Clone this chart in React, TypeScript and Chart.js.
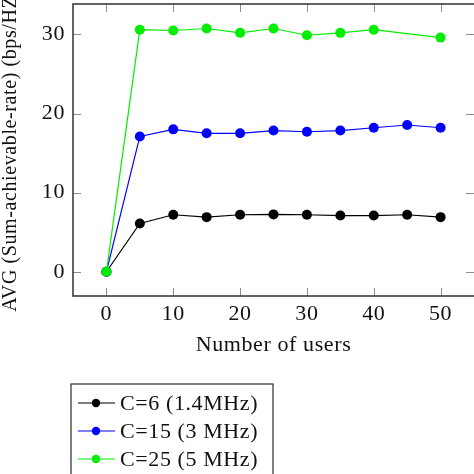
import React, { useEffect, useRef } from 'react';
import { Chart, registerables } from 'chart.js';

Chart.register(...registerables);

// Average sum-achievable rate versus number of users, per channel setup
const USERS = [0, 5, 10, 15, 20, 25, 30, 35, 40, 45, 50];
const USERS_C25 = [0, 5, 10, 15, 20, 25, 30, 35, 40, 50];
const RATE_C6 = [0, 6.1, 7.2, 6.9, 7.2, 7.25, 7.2, 7.1, 7.1, 7.2, 6.9];
const RATE_C15 = [0, 17.1, 18.0, 17.5, 17.5, 17.85, 17.7, 17.85, 18.2, 18.55, 18.2];
const RATE_C25 = [0, 30.6, 30.5, 30.75, 30.2, 30.75, 29.9, 30.2, 30.6, 29.6];

const SERIES_LABELS = ['C=6 (1.4MHz)', 'C=15 (3 MHz)', 'C=25 (5 MHz)'];
const SERIES_COLORS = ['#000000', '#0000ff', '#00ee00'];

const X_TICKS = [0, 10, 20, 30, 40, 50];
const Y_TICKS = [0, 10, 20, 30];
const X_TITLE = 'Number of users';
const Y_TITLE = 'AVG (Sum-achievable-rate) (bps/HZ)';

const FONT_FAMILY = "'Liberation Serif', 'Times New Roman', serif";
const W = 474;
const H = 474;

const toPoints = (xs: number[], ys: number[]) => xs.map((x, i) => ({ x, y: ys[i] }));

// Slightly looser tracking for every label drawn on the canvas
const trackingPlugin = {
  id: 'tracking',
  beforeDraw(chart: any) {
    chart.ctx.letterSpacing = '0.6px';
  },
};

// Boxed axis frame with inward tick marks on all four sides
const framePlugin = {
  id: 'frameTicks',
  afterDatasetsDraw(chart: any) {
    const { ctx, chartArea, scales } = chart;
    const { left, right, top, bottom } = chartArea;
    const len = 8;
    ctx.save();
    ctx.strokeStyle = '#8c8c8c';
    ctx.lineWidth = 1;
    ctx.beginPath();
    X_TICKS.forEach((v) => {
      const px = Math.round(scales.x.getPixelForValue(v)) + 0.5;
      ctx.moveTo(px, bottom);
      ctx.lineTo(px, bottom - len);
      ctx.moveTo(px, top);
      ctx.lineTo(px, top + len);
    });
    Y_TICKS.forEach((v) => {
      const py = Math.round(scales.y.getPixelForValue(v)) + 0.5;
      ctx.moveTo(left, py);
      ctx.lineTo(left + len, py);
      ctx.moveTo(right, py);
      ctx.lineTo(right - len, py);
    });
    ctx.stroke();
    ctx.strokeStyle = '#3c3c3c';
    ctx.lineWidth = 1.6;
    ctx.strokeRect(left, top, right - left + 2, bottom - top);
    ctx.restore();
  },
};

// Boxed legend below the plot
const boxLegendPlugin = {
  id: 'boxLegend',
  afterDraw(chart: any) {
    const { ctx } = chart;
    const boxLeft = 71;
    const boxTop = 384;
    const boxRight = 273;
    const rowY = [403, 431, 459];
    ctx.save();
    ctx.strokeStyle = '#4a4a4a';
    ctx.lineWidth = 1.4;
    ctx.strokeRect(boxLeft, boxTop, boxRight - boxLeft, 120);
    chart.data.datasets.forEach((ds: any, i: number) => {
      const y = rowY[i];
      ctx.strokeStyle = ds.borderColor;
      ctx.lineWidth = 1.2;
      ctx.beginPath();
      ctx.moveTo(78, y);
      ctx.lineTo(115, y);
      ctx.stroke();
      ctx.fillStyle = ds.pointBackgroundColor;
      ctx.beginPath();
      ctx.arc(96, y, 4.2, 0, Math.PI * 2);
      ctx.fill();
      ctx.fillStyle = '#111';
      ctx.font = `22px ${FONT_FAMILY}`;
      ctx.textAlign = 'left';
      ctx.textBaseline = 'middle';
      ctx.fillText(ds.label, 120, y + 1);
    });
    ctx.restore();
  },
};

export default function App() {
  const canvasRef = useRef<HTMLCanvasElement | null>(null);

  useEffect(() => {
    document.body.style.margin = '0';
    const canvas = canvasRef.current;
    if (!canvas) return;

    const series = [
      toPoints(USERS, RATE_C6),
      toPoints(USERS, RATE_C15),
      toPoints(USERS_C25, RATE_C25),
    ];

    const chart = new Chart(canvas, {
      type: 'line',
      data: {
        datasets: series.map((data, i) => ({
          label: SERIES_LABELS[i],
          data,
          borderColor: SERIES_COLORS[i],
          backgroundColor: SERIES_COLORS[i],
          pointBackgroundColor: SERIES_COLORS[i],
          pointBorderColor: SERIES_COLORS[i],
          pointRadius: 5,
          pointBorderWidth: 0,
          borderWidth: 1.2,
          tension: 0,
          fill: false,
          order: 2 - i,
        })),
      },
      options: {
        responsive: false,
        animation: false,
        events: [],
        layout: { autoPadding: false, padding: { top: 4, right: 0, left: 0, bottom: 114 } },
        plugins: {
          legend: { display: false },
          tooltip: { enabled: false },
        },
        scales: {
          x: {
            type: 'linear',
            min: -5,
            max: 55,
            afterBuildTicks: (scale: any) => {
              scale.ticks = X_TICKS.map((value) => ({ value }));
            },
            afterFit: (scale: any) => {
              scale.height = 64;
              scale.paddingLeft = 0;
              scale.paddingRight = 0;
            },
            grid: { display: false, drawTicks: false },
            border: { display: false },
            ticks: {
              padding: 5,
              color: '#111',
              font: { family: FONT_FAMILY, size: 22 },
              maxRotation: 0,
            },
            title: {
              display: true,
              text: X_TITLE,
              color: '#111',
              font: { family: FONT_FAMILY, size: 22, lineHeight: 1.2 },
              padding: { top: 0, bottom: 2 },
            },
          },
          y: {
            type: 'linear',
            min: -3.07,
            max: 33.85,
            afterBuildTicks: (scale: any) => {
              scale.ticks = Y_TICKS.map((value) => ({ value }));
            },
            afterFit: (scale: any) => {
              scale.width = 73;
              scale.paddingTop = 0;
              scale.paddingBottom = 0;
            },
            grid: { display: false, drawTicks: false },
            border: { display: false },
            ticks: {
              padding: 8,
              color: '#111',
              font: { family: FONT_FAMILY, size: 22 },
            },
            title: {
              display: true,
              text: Y_TITLE,
              color: '#111',
              font: { family: FONT_FAMILY, size: 20, lineHeight: 1.05 },
              padding: { top: 0, bottom: 0 },
            },
          },
        },
      },
      plugins: [trackingPlugin, framePlugin, boxLegendPlugin],
    });

    return () => chart.destroy();
  }, []);

  return (
    <div style={{ width: W, height: H, overflow: 'hidden', background: '#fff' }}>
      <canvas ref={canvasRef} width={W} height={H} style={{ display: 'block' }} />
    </div>
  );
}
